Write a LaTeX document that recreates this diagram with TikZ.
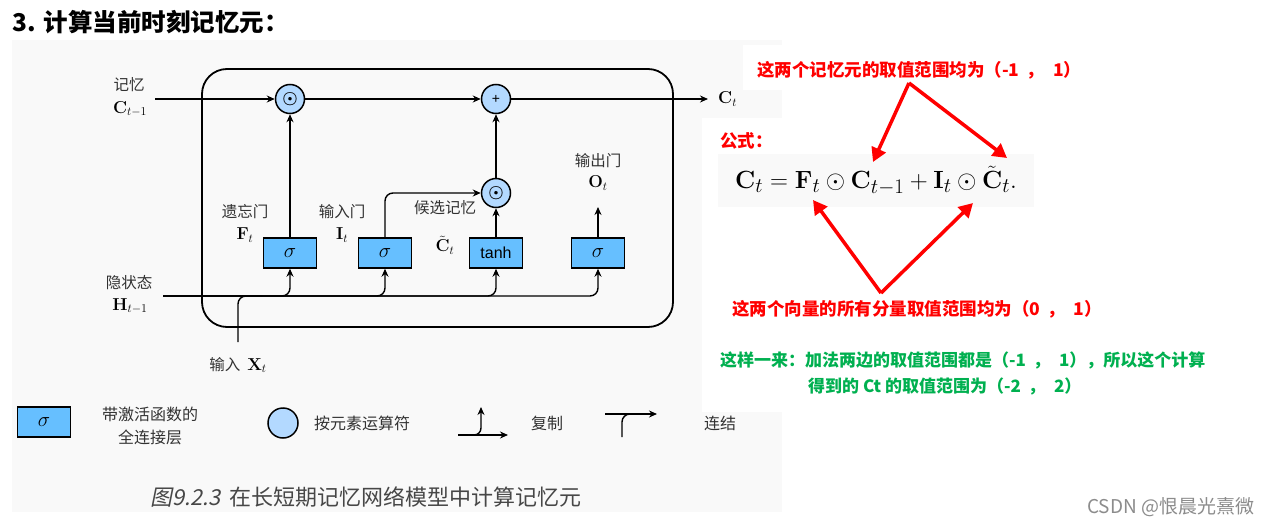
\documentclass[tikz,border=0pt]{standalone}
\usepackage{amsmath}
\usepackage[no-math]{fontspec}
\setmainfont{Liberation Sans}
\newfontfamily\cjk{Noto Sans CJK SC}
\newfontfamily\cjkit{Noto Sans CJK SC}[FakeSlant=0.2]
\usetikzlibrary{arrows.meta}
\definecolor{bgfig}{RGB}{249,249,249}
\definecolor{boxblue}{RGB}{102,191,255}
\definecolor{circblue}{RGB}{179,217,255}
\definecolor{annred}{RGB}{255,0,0}
\definecolor{anngreen}{RGB}{0,176,80}
\definecolor{lblgray}{RGB}{50,50,50}
\tikzset{
  gatebox/.style={draw, line width=1.5pt, fill=boxblue, minimum width=53pt, minimum height=30pt, inner sep=0pt, font=\fontsize{16}{18}\selectfont},
  opcirc/.style={circle, draw, line width=1.5pt, fill=circblue, minimum size=29pt, inner sep=0pt},
  conn/.style={line width=1.4pt},
  arr/.style={conn, -{Stealth[length=8pt,width=7pt]}},
  lbl/.style={font=\cjk\fontsize{15.5}{18}\selectfont, text=lblgray, inner sep=0pt},
  mlbl/.style={font=\fontsize{17}{19}\selectfont, inner sep=0pt},
  redarrow/.style={line width=3.5pt, draw=annred, -{Triangle[length=14pt,width=15pt]}},
  redtxt/.style={anchor=west, inner sep=0pt, text=annred, font=\cjk\bfseries\fontsize{17.5}{20}\selectfont},
  greentxt/.style={anchor=west, inner sep=0pt, text=anngreen, font=\cjk\bfseries\fontsize{17}{20}\selectfont},
}
\begin{document}
\begin{tikzpicture}[x=1pt,y=-1pt]
\useasboundingbox (0,0) rectangle (1271,532);
\fill[white] (0,0) rectangle (1271,532);
% figure background
\fill[bgfig] (12,40) rectangle (782,512);
\fill[white] (743,45) rectangle (790,90);
\fill[white] (702,118) rectangle (790,412);

% title
\node[anchor=west, inner sep=0pt, font=\cjk\bfseries\fontsize{24.5}{26}\selectfont] (title) at (12,22) {3.\hspace{8pt}计算当前时刻记忆元：};

% LSTM cell frame
\draw[line width=1.8pt, rounded corners=25pt] (202,69) rectangle (673,327);

% nodes
\node[opcirc] (m1) at (290,99) {\fontsize{18}{18}\selectfont$\boldsymbol{\odot}$};
\node[opcirc] (add) at (496,99) {\fontsize{14}{14}\selectfont +};
\node[opcirc] (m2) at (496,193) {\fontsize{18}{18}\selectfont$\boldsymbol{\odot}$};
\node[gatebox] (fg) at (290,253) {\fontsize{20}{20}\selectfont$\sigma$};
\node[gatebox] (ig) at (385,253) {\fontsize{20}{20}\selectfont$\sigma$};
\node[gatebox] (cg) at (496,253) {tanh};
\node[gatebox] (og) at (598,253) {\fontsize{20}{20}\selectfont$\sigma$};

\coordinate (cin) at (155,99);
\coordinate (cout) at (708,99);
\coordinate (hin) at (163,296);
\coordinate (xin) at (238,342);
\coordinate (xj) at (262,296);
\coordinate (oout) at (598,207);

% connectors
\draw[arr] (cin) -- (m1);
\draw[arr] (m1) -- (add);
\draw[arr] (add) -- (cout);
\draw[arr] (fg) -- (m1);
\draw[arr] (cg) -- (m2);
\draw[arr] (m2) -- (add);
\draw[arr, rounded corners=8pt] (ig.north) |- (m2);
\draw[arr] (og) -- (oout);
\draw[arr, rounded corners=8pt] (hin) -| (fg.south);
\draw[arr, rounded corners=8pt] (hin) -| (ig.south);
\draw[arr, rounded corners=8pt] (hin) -| (cg.south);
\draw[arr, rounded corners=8pt] (hin) -| (og.south);
\draw[conn, rounded corners=8pt] (xin) |- (xj);

% labels
\node[lbl] (l_mem) at (129,85) {记忆};
\node[mlbl] (l_c1) at (130,109) {$\mathbf{C}_{t-1}$};
\node[lbl] (l_hid) at (129,283) {隐状态};
\node[mlbl] (l_h1) at (130,306) {$\mathbf{H}_{t-1}$};
\node[lbl] (l_fg) at (245,212) {遗忘门};
\node[mlbl] (l_f) at (245,235) {$\mathbf{F}_t$};
\node[lbl] (l_ig) at (342,212) {输入门};
\node[mlbl] (l_i) at (342,235) {$\mathbf{I}_t$};
\node[lbl] (l_cand) at (445,208) {候选记忆};
\node[mlbl] (l_ct) at (445,245) {$\tilde{\mathbf{C}}_t$};
\node[lbl] (l_og) at (598,161) {输出门};
\node[mlbl] (l_o) at (598,183) {$\mathbf{O}_t$};
\node[mlbl, anchor=west] (l_cout) at (718,99) {$\mathbf{C}_t$};
\node[lbl] (l_x) at (238,365) {输入\ \ \textcolor{black}{\fontsize{17}{19}\selectfont$\mathbf{X}_t$}};

% legend
\node[gatebox] (lg_box) at (44,422) {\fontsize{20}{20}\selectfont$\sigma$};
\node[lbl, align=center, font=\cjk\fontsize{16}{23}\selectfont] (lg_boxt) at (150,426) {带激活函数的\\全连接层};
\node[opcirc, minimum size=30pt] (lg_circ) at (283,423) {};
\node[lbl, font=\cjk\fontsize{16}{18}\selectfont] (lg_circt) at (362,423) {按元素运算符};
\coordinate (cpA) at (458,435);
\coordinate (cpB) at (508,435);
\coordinate (cpT) at (481,407);
\draw[arr] (cpA) -- (cpB);
\draw[arr, rounded corners=7pt] (cpA) -| (cpT);
\node[lbl, font=\cjk\fontsize{16}{18}\selectfont] (lg_copy) at (547,423) {复制};
\coordinate (ctL) at (605,414);
\coordinate (ctR) at (657,414);
\coordinate (ctB) at (622,437);
\coordinate (ctM) at (640,414);
\draw[arr] (ctL) -- (ctR);
\draw[conn, rounded corners=8pt] (ctB) |- (ctM);
\node[lbl, font=\cjk\fontsize{16}{18}\selectfont] (lg_cat) at (720,423) {连结};

% caption
\node[anchor=west, inner sep=0pt, text=black!72, font=\fontsize{22}{24}\selectfont] (cap) at (150,497) {{\cjkit 图9.2.3}\hspace{8pt}{\cjk 在长短期记忆网络模型中计算记忆元}};

% annotations
\node[redtxt] (a1) at (757,70) {这两个记忆元的取值范围均为（-1\hspace{7pt}，\hspace{9pt}1）};
\node[redtxt] (a2) at (720,141) {公式：};
\node[fill=bgfig, minimum width=316pt, minimum height=53pt, inner sep=0pt, font=\fontsize{29}{30}\selectfont] (eq) at (876,180.5) {$\mathbf{C}_t = \mathbf{F}_t \odot \mathbf{C}_{t-1} + \mathbf{I}_t \odot \tilde{\mathbf{C}}_t.$};
\coordinate (ra) at (909,83);
\coordinate (rc1) at (873,162);
\coordinate (rc2) at (1007,158);
\draw[redarrow] (ra) -- (rc1);
\draw[redarrow] (ra) -- (rc2);
\coordinate (rb) at (881,293);
\coordinate (rf) at (813,200);
\coordinate (ri) at (973,203);
\draw[redarrow] (rb) -- (rf);
\draw[redarrow] (rb) -- (ri);
\node[redtxt] (a3) at (732,309) {这两个向量的所有分量取值范围均为（0\hspace{7pt}，\hspace{9pt}1）};
\node[greentxt] (g1) at (720,360) {这样一来：加法两边的取值范围都是（-1\hspace{7pt}，\hspace{9pt}1），所以这个计算};
\node[greentxt] (g2) at (808,386) {得到的 Ct 的取值范围为（-2\hspace{7pt}，\hspace{9pt}2）};

% watermark
\node[anchor=west, inner sep=0pt, text=black!45, font=\cjk\fontsize{19}{20}\selectfont] (wm) at (1087,507) {CSDN @恨晨光熹微};
\end{tikzpicture}
\end{document}
